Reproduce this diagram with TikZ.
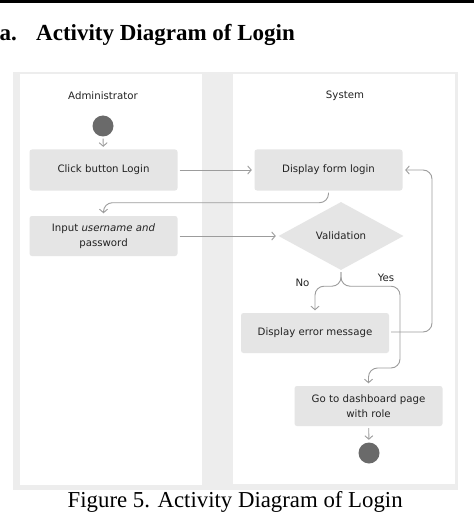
\documentclass[tikz,border=0pt]{standalone}
\usepackage{fontspec}
\usepackage{xcolor}
\usepackage{tikz}
\usetikzlibrary{shapes.geometric,arrows.meta,positioning}
\setmainfont{Liberation Serif}
\newfontfamily\boxfont{DejaVu Sans}
\definecolor{lanegray}{HTML}{EDEDED}
\definecolor{boxgray}{HTML}{E5E5E5}
\definecolor{linegray}{HTML}{9C9C9C}
\definecolor{dotgray}{HTML}{6A6A6A}
\definecolor{textgray}{HTML}{222222}

\begin{document}
\begin{tikzpicture}[x=1pt, y=-1pt,
	lbl/.style={font=\boxfont\fontsize{10.2}{15.5}\selectfont, text=textgray, align=center},
	actbox/.style={lbl, rectangle, rounded corners=2.5pt, fill=boxgray, minimum width=148pt, minimum height=41pt, inner sep=0pt},
	decide/.style={lbl, diamond, fill=boxgray, minimum width=125pt, minimum height=68pt, inner sep=0pt},
	dot/.style={circle, fill=dotgray, minimum size=21pt, inner sep=0pt},
	flow/.style={draw=linegray, line width=0.9pt, rounded corners=9pt, -{Straight Barb[length=3.5pt, width=8pt]}, shorten >=2.5pt, shorten <=2pt}]
			\useasboundingbox (0,0) rectangle (474,513);
			\fill[black] (0,0) rectangle (474,3);
			\node[anchor=base west, font=\bfseries\fontsize{23}{26}\selectfont, inner sep=0pt] (part) at (-0.5,40.5) {a.};
			\node[anchor=base west, font=\bfseries\fontsize{23}{26}\selectfont, inner sep=0pt] (title) at (36,40.5) {Activity Diagram of Login};
			\fill[lanegray] (13,72) rectangle (458,490);
			\fill[white] (20,74) rectangle (202,485);
			\fill[white] (233,74) rectangle (455,484);
			\node[lbl] (admin) at (103,96) {Administrator};
			\node[lbl] (system) at (345,96) {System};
			\node[dot] (start) at (103,126) {};
			\node[actbox] (click) at (103.5,170) {Click button Login};
			\node[actbox] (form) at (328.5,170) {Display form login};
			\node[actbox, minimum height=40pt] (input) at (103.5,236) {Input \textit{username and}\\password};
			\node[decide] (valid) at (341,236) {Validation};
			\node[actbox, minimum height=40pt] (error) at (315,333) {Display error message};
			\node[actbox, minimum height=40pt] (dash) at (368.5,406) {Go to dashboard page\\with role};
			\node[dot] (finish) at (369,453) {};
			\node[lbl] (no) at (302.5,283) {No};
			\node[lbl] (yes) at (386,278) {Yes};
			\coordinate (yesbend) at (400,368);
			\coordinate (backbend) at (432,332);
			\draw[flow] (start) -- (click);
			\draw[flow] (click) -- (form);
			\draw[flow] (form.south) -- ++(0,12) -| (input.north);
			\draw[flow] (input) -- (valid);
			\draw[flow] (valid.south) -- ++(0,16) -| (error.north);
			\draw[flow] (valid.south) -- ++(0,16) -| (yesbend) -| (dash.north);
			\draw[flow] (error.east |- backbend) -- (backbend) |- (form.east);
			\draw[flow] (dash) -- (finish);
			\node[anchor=base west, font=\fontsize{22.8}{26}\selectfont, inner sep=0pt] (caption) at (67.5,507.5) {Figure 5. Activity Diagram of Login};
		\end{tikzpicture}
\end{document}
